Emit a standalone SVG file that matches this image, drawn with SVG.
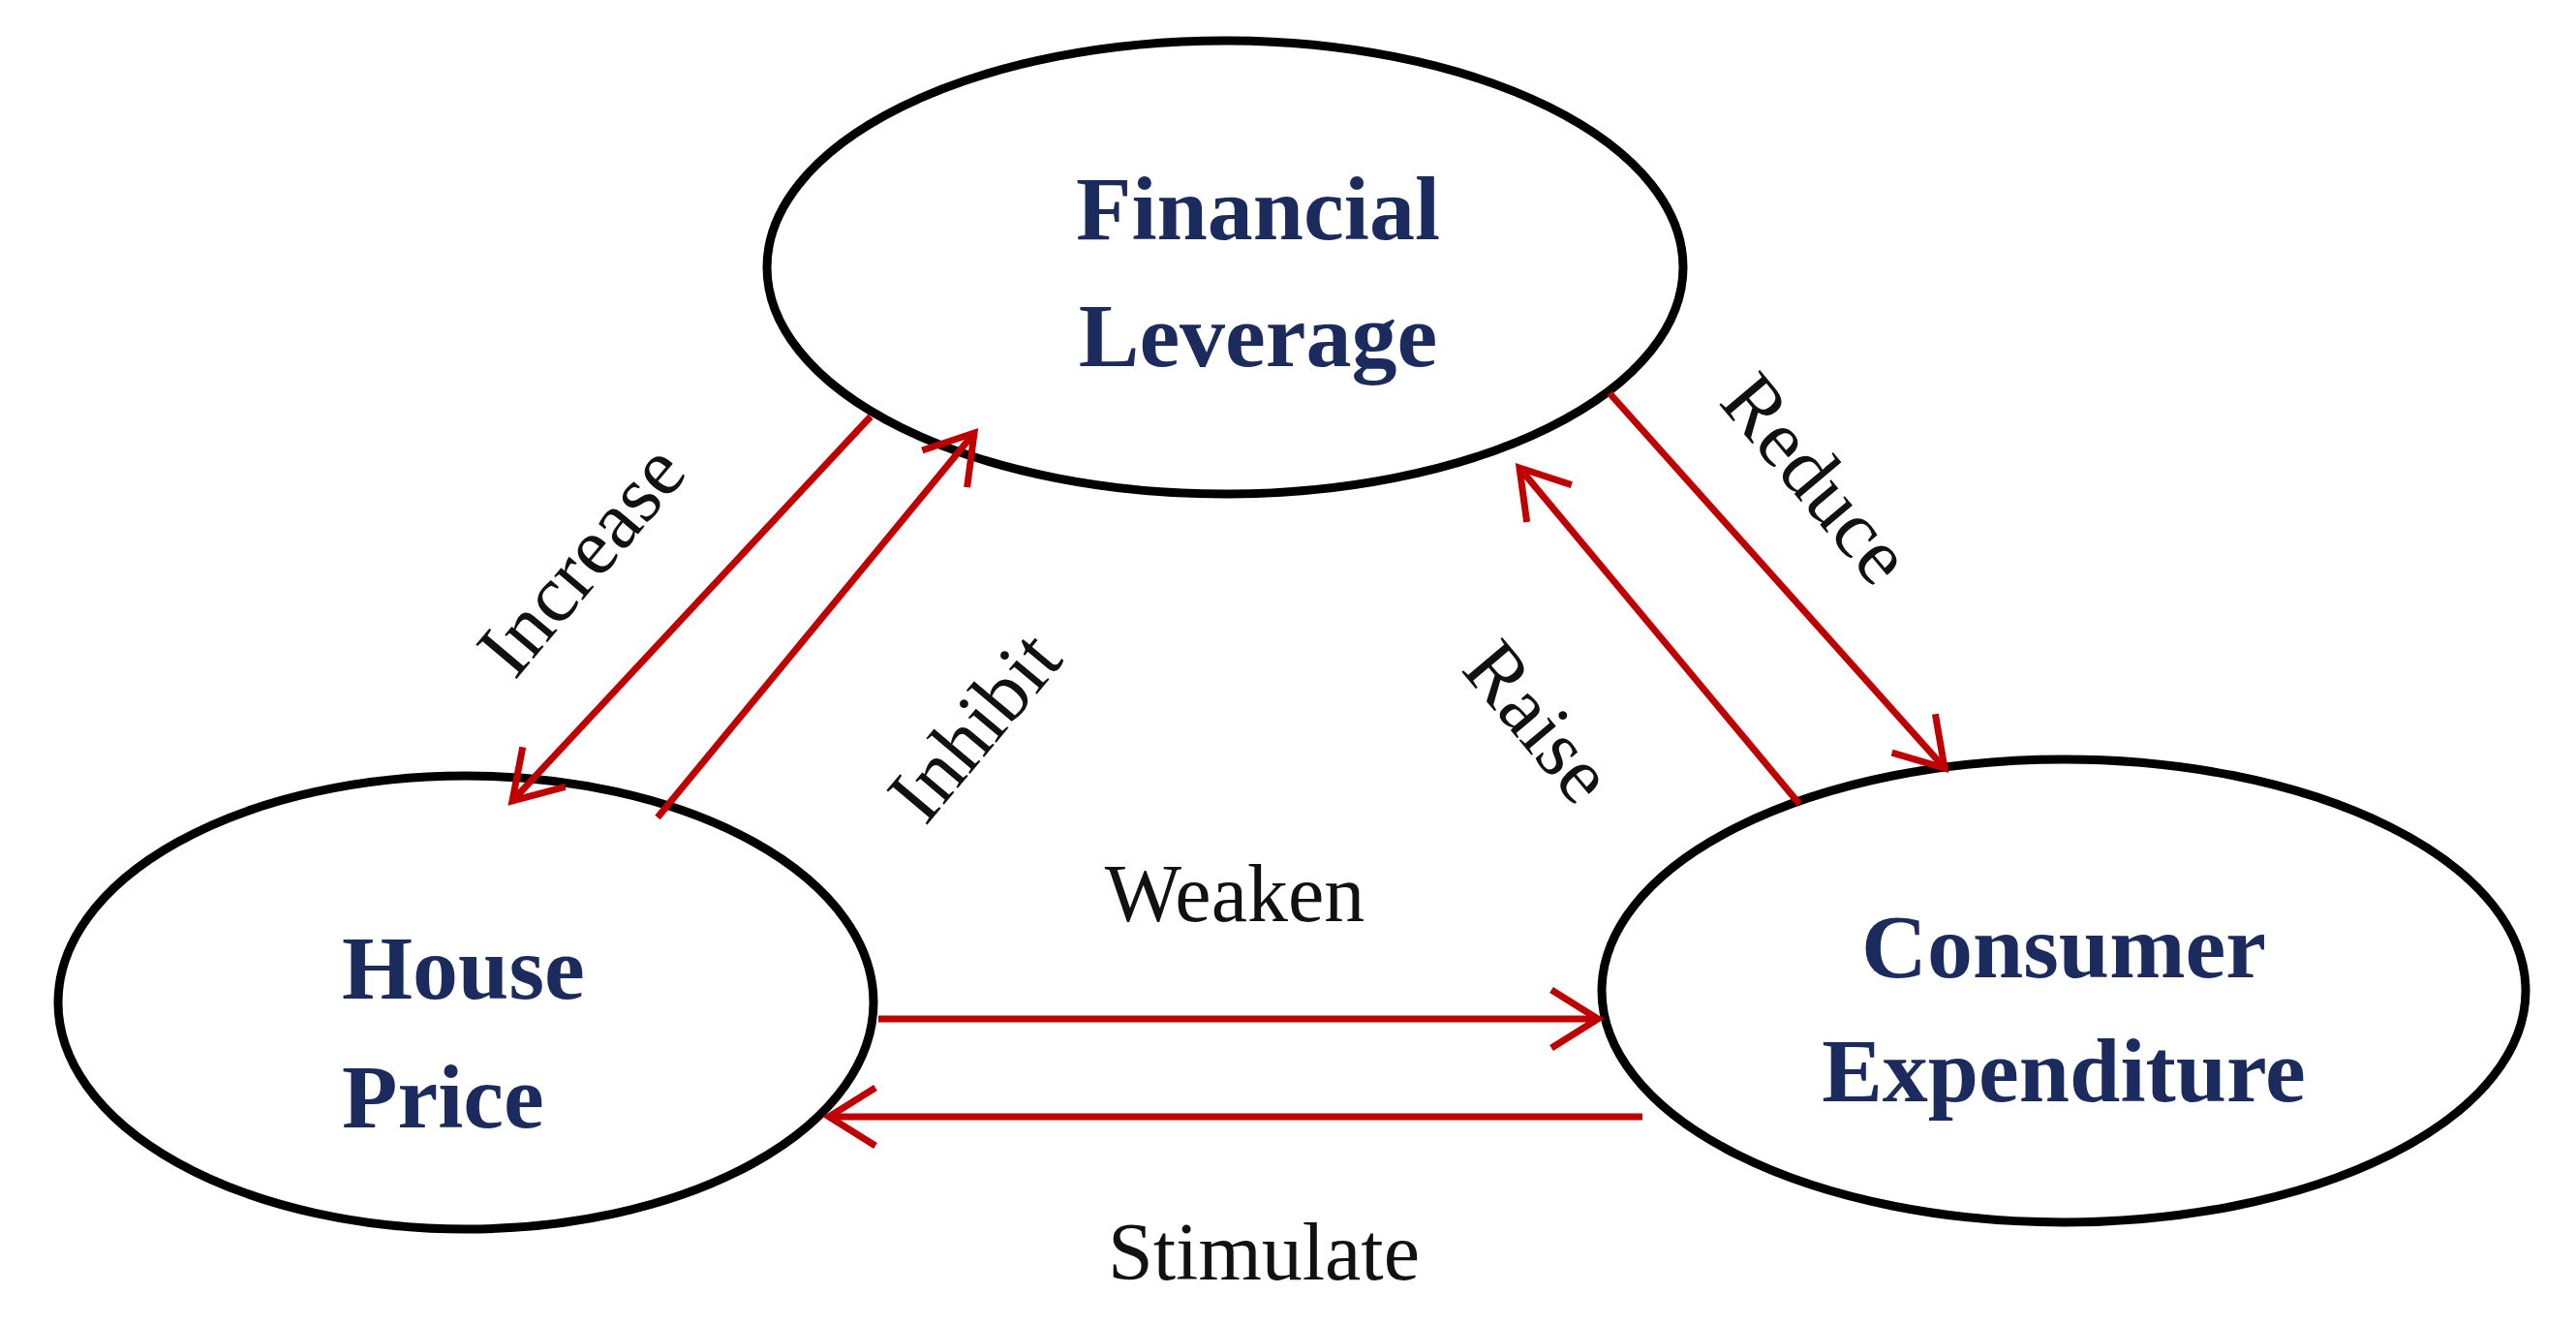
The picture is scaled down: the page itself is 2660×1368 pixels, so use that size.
<svg xmlns="http://www.w3.org/2000/svg" width="2660" height="1368" viewBox="0 0 2660 1368">
<style>
.node{fill:#fff;stroke:#000;stroke-width:9}
.nt{font-family:"Liberation Serif",serif;font-weight:bold;font-size:94px;fill:#1b2b5e}
.lb{font-family:"Liberation Serif",serif;font-size:84px;fill:#111}
.c{stroke:#c00000;stroke-width:7;fill:none;marker-end:url(#a)}
</style>
<defs><marker id="a" markerUnits="userSpaceOnUse" markerWidth="100" markerHeight="100" refX="0" refY="0" orient="auto" style="overflow:visible"><path d="M-48,-30 L0,0 L-48,30" fill="none" stroke="#c00000" stroke-width="7"/></marker></defs>
<rect width="2660" height="1368" fill="#fff"/>
<g id="financial"><ellipse class="node" cx="1265" cy="276" rx="473" ry="234"/><text class="nt" text-anchor="middle" x="1299" y="247">Financial</text><text class="nt" text-anchor="middle" x="1299" y="378">Leverage</text></g>
<g id="house"><ellipse class="node" cx="481" cy="1035" rx="421" ry="234"/><text class="nt" x="353" y="1031">House</text><text class="nt" x="353" y="1164">Price</text></g>
<g id="consumer"><ellipse class="node" cx="2131" cy="1023" rx="477" ry="239"/><text class="nt" text-anchor="middle" x="2131" y="1009">Consumer</text><text class="nt" text-anchor="middle" x="2131" y="1137">Expenditure</text></g>
<g id="connectors">
<line class="c" x1="899" y1="430" x2="529" y2="827"/>
<line class="c" x1="679" y1="844" x2="1006" y2="447"/>
<line class="c" x1="1662" y1="406" x2="2008" y2="793"/>
<line class="c" x1="1858" y1="830" x2="1569" y2="483"/>
<line class="c" x1="907" y1="1052" x2="1650" y2="1052"/>
<line class="c" x1="1696" y1="1153" x2="856" y2="1153"/>
<text class="lb" text-anchor="middle" transform="translate(600,578) rotate(-50)" dy="28">Increase</text>
<text class="lb" text-anchor="middle" transform="translate(1006,750) rotate(-50)" dy="28">Inhibit</text>
<text class="lb" text-anchor="middle" transform="translate(1876,494) rotate(50)" dy="28">Reduce</text>
<text class="lb" text-anchor="middle" transform="translate(1589,745) rotate(50)" dy="28">Raise</text>
<text class="lb" text-anchor="middle" x="1275" y="951">Weaken</text>
<text class="lb" text-anchor="middle" x="1305" y="1321">Stimulate</text>
</g>
</svg>
